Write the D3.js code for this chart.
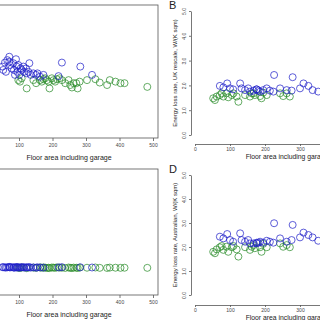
<!DOCTYPE html>
<html>
<head>
<meta charset="utf-8">
<script src="https://cdn.jsdelivr.net/npm/d3@7"></script>
<style>
  body { margin: 0; background: #fff; }
  svg { display: block; }
  text { font-family: "Liberation Sans", Arial, sans-serif; }
</style>
</head>
<body>
<svg id="chart" width="320" height="320"></svg>
<script>
// panel A / C : floor area and rate, two groups
var areaBlueA = [51,58,61,65,71,73,78,83,85,91,93,95,98,101,105,108,113,115,121,123,128,131,135,143,151,155,163,173,228,283,218,318,71,53,88];
var rateBlueA = [2.16,2.29,1.99,2.37,2.48,2.21,2.10,2.27,2.05,2.40,2.16,1.99,2.21,1.89,2.10,2.05,2.16,1.99,2.10,1.94,1.99,2.27,1.89,1.94,1.89,1.94,1.83,1.89,2.29,2.16,1.85,1.89,2.32,2.05,1.89];
var areaGreenA = [98,103,108,123,143,151,163,168,173,178,183,188,191,198,203,208,213,221,228,238,248,253,258,263,271,275,281,303,328,341,363,371,388,403,415,483];
var rateGreenA = [1.72,1.67,1.78,1.45,1.72,1.62,1.72,1.67,1.75,1.78,1.72,1.67,1.45,1.78,1.72,1.67,1.75,1.78,1.72,1.62,1.72,1.56,1.48,1.62,1.62,1.45,1.67,1.72,1.75,1.64,1.56,1.72,1.67,1.62,1.62,1.50];
var rateBlueC = [1.97,1.95,1.93,1.96,1.99,1.94,1.97,1.95,1.93,1.98,1.96,1.94,1.97,1.92,1.95,1.96,1.98,1.93,1.95,1.94,1.96,1.97,1.93,1.95,1.92,1.96,1.94,1.93,1.97,1.96,1.95,1.94,1.98,1.96,1.93];
var rateGreenC = [1.92,1.90,1.94,1.88,1.93,1.91,1.95,1.92,1.94,1.93,1.90,1.92,1.89,1.94,1.93,1.91,1.95,1.93,1.92,1.90,1.94,1.91,1.89,1.93,1.92,1.90,1.93,1.92,1.94,1.91,1.90,1.93,1.92,1.91,1.92,1.91];

// panel B / D : floor area, UK rescale and Australian rates
var areaBlueB = [71,81,92,100,109,129,133,143,152,167,176,181,226,279,176,186,195,205,214,224,243,262,276,300,310,324,336,352,157];
var ukBlue = [1.98,1.92,2.08,1.88,1.84,2.08,1.88,1.81,1.88,1.79,1.84,1.79,2.42,2.33,1.84,1.75,1.81,1.88,1.79,1.75,1.88,1.81,1.79,1.88,2.08,1.98,1.81,1.75,1.75];
var ausBlue = [2.43,2.36,2.54,2.29,2.22,2.57,2.29,2.22,2.29,2.15,2.18,2.18,2.99,2.92,2.15,2.22,2.18,2.26,2.22,2.18,2.36,2.22,2.29,2.40,2.60,2.50,2.40,2.26,2.15];
var areaGreenB = [52,57,62,71,76,81,90,95,105,110,124,119,143,157,162,171,167,186,190,205,243,252,262,271,195];
var ukGreen = [1.48,1.41,1.55,1.61,1.68,1.55,1.68,1.52,1.61,1.68,1.34,1.55,1.61,1.55,1.68,1.61,1.68,1.57,1.48,1.61,1.68,1.57,1.68,1.55,1.71];
var ausGreen = [1.80,1.74,1.90,1.99,2.04,1.88,2.01,1.80,1.99,2.04,1.60,1.90,1.99,1.88,2.01,1.95,2.08,1.99,1.80,1.99,2.15,2.01,2.08,1.99,2.13];

var areaTicksA = [100, 200, 300, 400, 500];
var areaTicksB = [0, 100, 200, 300];
var rateTicks = [0, 1, 2, 3, 4, 5];
var xTitle = "Floor area including garage";

var blue = "rgba(30,30,200,0.8)";
var green = "rgba(40,140,40,0.8)";
var svg = d3.select("#chart");

function pts(g, xs, ys, x, y, col) {
  g.selectAll(null).data(xs).enter()
    .append("circle")
    .attr("cx", function(d) { return x(d); })
    .attr("cy", function(d, i) { return y(ys[i]); })
    .attr("r", 3.5)
    .attr("fill", "none")
    .attr("stroke", col)
    .attr("stroke-width", 0.9);
}

function styleAxis(g) {
  g.selectAll("path, line").attr("stroke", "#555").attr("stroke-width", 0.8);
  g.selectAll("text").attr("font-size", 5).attr("fill", "#444");
}

// boxed panels on the left (A and C)
function leftPanel(top, bottom, yDom, blueY, greenY) {
  var x = d3.scaleLinear().domain([0, 500]).range([-14.5, 153]);
  var y = d3.scaleLinear().domain(yDom).range([bottom - 5, top + 5]);
  var g = svg.append("g");
  g.append("rect")
    .attr("x", -20).attr("y", top)
    .attr("width", 178).attr("height", bottom - top)
    .attr("fill", "none").attr("stroke", "#555").attr("stroke-width", 0.8);
  pts(g, areaGreenA, greenY, x, y, green);
  pts(g, areaBlueA, blueY, x, y, blue);
  var ax = g.append("g")
    .attr("transform", "translate(0," + bottom + ")")
    .call(d3.axisBottom(x).tickValues(areaTicksA).tickSize(3).tickSizeOuter(0).tickPadding(2));
  ax.select(".domain").remove();
  styleAxis(ax);
  g.append("text")
    .attr("x", 69).attr("y", bottom + 22)
    .attr("text-anchor", "middle")
    .attr("font-size", 7)
    .attr("fill", "#222")
    .text(xTitle);
}

// open-axis panels on the right (B and D)
function rightPanel(yTop, yBot, xAxisY, letter, yTitle, blueY, greenY) {
  var x = d3.scaleLinear().domain([0, 400]).range([195, 335]);
  var y = d3.scaleLinear().domain([0, 5]).range([yBot, yTop]);
  var g = svg.append("g");
  pts(g, areaGreenB, greenY, x, y, green);
  pts(g, areaBlueB, blueY, x, y, blue);
  var ax = g.append("g")
    .attr("transform", "translate(0," + xAxisY + ")")
    .call(d3.axisBottom(x).tickValues(areaTicksB).tickSize(2).tickSizeOuter(0).tickPadding(1));
  styleAxis(ax);
  var ay = g.append("g")
    .attr("transform", "translate(191,0)")
    .call(d3.axisLeft(y).tickValues(rateTicks).tickSize(2).tickSizeOuter(0).tickPadding(2));
  styleAxis(ay);
  ay.selectAll(".tick text")
    .attr("text-anchor", "middle")
    .attr("x", 0).attr("dy", 0)
    .attr("transform", "translate(-5,0) rotate(-90)");
  g.append("text")
    .attr("x", 287).attr("y", xAxisY + 14.5)
    .attr("text-anchor", "middle")
    .attr("font-size", 6.8)
    .attr("fill", "#222")
    .text(xTitle);
  g.append("text")
    .attr("transform", "translate(177," + ((yTop + yBot) / 2) + ") rotate(-90)")
    .attr("text-anchor", "middle")
    .attr("font-size", 6)
    .attr("fill", "#222")
    .text(yTitle);
  g.append("text")
    .attr("x", 169).attr("y", yTop - 2)
    .attr("font-family", "Liberation Serif, serif")
    .attr("font-size", 11)
    .attr("fill", "#222")
    .text(letter);
}

leftPanel(5, 138, [0, 4], rateBlueA, rateGreenA);
leftPanel(169, 295, [0, 10], rateBlueC, rateGreenC);
rightPanel(11, 135, 144, "B", "Energy loss rate, UK rescale, W/(K sqm)", ukBlue, ukGreen);
rightPanel(175, 295, 305, "D", "Energy loss rate, Australian, W/(K sqm)", ausBlue, ausGreen);
</script>
</body>
</html>
